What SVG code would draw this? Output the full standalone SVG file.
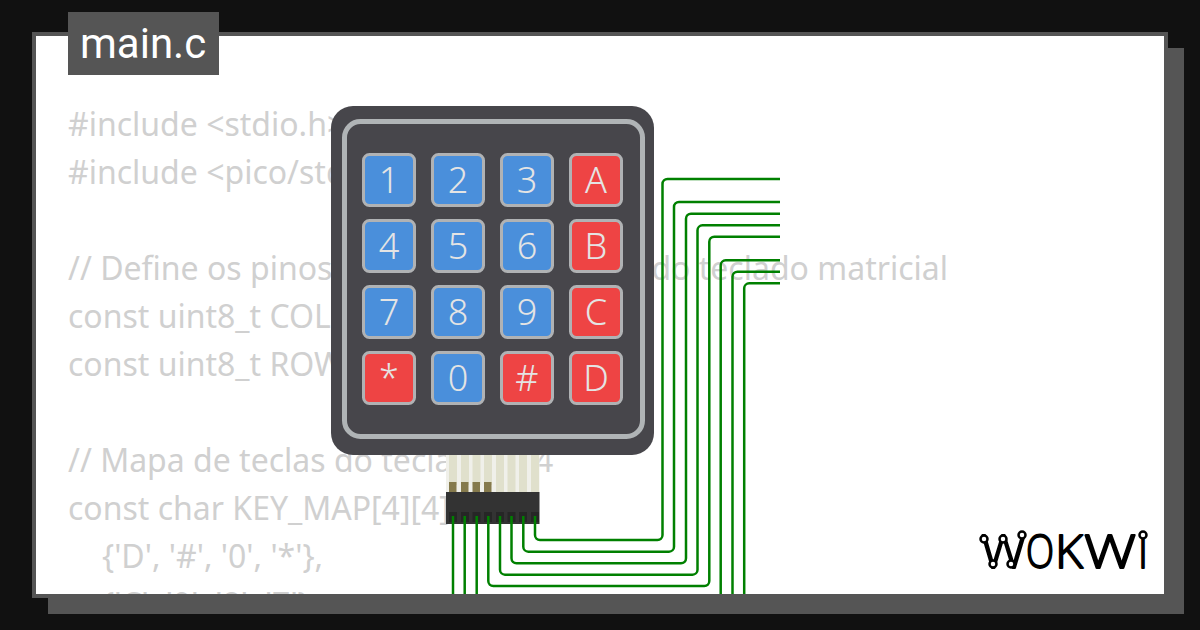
<svg xmlns="http://www.w3.org/2000/svg" width="1200" height="630" viewBox="0 0 1200 630">
<style>
.code{font-family:"Noto Sans","Open Sans",sans-serif;font-size:32px;fill:#d0d0d0}
.key{stroke:#b0b2b4;stroke-width:3}
.blue{fill:#4a8fdb}
.red{fill:#ee4444}
.lbl{font-family:"Noto Sans","Open Sans",sans-serif;font-weight:300;font-size:36px;fill:#e4e4e4;text-anchor:middle}
.w{fill:none;stroke:#008000;stroke-width:2.500}
.strip{fill:#e0e0cc}
.pad{fill:#857a4c}
.pin{fill:#262626}
.logo{font-family:"Open Sans",sans-serif;font-weight:300;font-size:46px;fill:#000;stroke:#000;stroke-width:1.800;stroke-linejoin:round}
.dot{fill:#fff;stroke:#000;stroke-width:2.500}
</style>
<defs><clipPath id="panel"><rect x="36" y="36" width="1128" height="558"/></clipPath></defs>
<rect width="1200" height="630" fill="#111"/>
<rect x="48" y="48" width="1136" height="566" fill="#555"/>
<rect x="34" y="34" width="1132" height="562" fill="#fff" stroke="#555" stroke-width="4"/>
<g id="code" clip-path="url(#panel)">
<text class="code" x="68" y="136">#include &lt;stdio.h&gt;</text>
<text class="code" x="68" y="184">#include &lt;pico/std</text>
<text class="code" x="68" y="280">// Define os pinos</text>
<text class="code" x="948" y="280" text-anchor="end">do teclado matricial</text>
<text class="code" x="68" y="328">const uint8_t COL</text>
<text class="code" x="68" y="376">const uint8_t ROW</text>
<text class="code" x="68" y="472">// Mapa de teclas do teclado 4x4</text>
<text class="code" x="68" y="520">const char KEY_MAP[4][4]</text>
<text class="code" x="102" y="568">{'D', '#', '0', '*'},</text>
<text class="code" x="102" y="616">{'C', '9', '8', '7'},</text>
</g>
<g id="title">
<rect x="68" y="12" width="151" height="63" fill="#555"/>
<text x="80" y="58" font-family="Roboto,sans-serif" font-size="42" fill="#fff">main.c</text>
</g>
<g id="keypad">
<rect x="331" y="106" width="323" height="349" rx="22" fill="#47464b"/>
<rect x="344.500" y="121.500" width="298" height="315" rx="16" fill="none" stroke="#b0b4b6" stroke-width="5"/>
<g id="key-1"><rect class="key blue" x="363.500" y="154.500" width="51" height="51" rx="6"/><text class="lbl" x="389" y="193">1</text></g>
<g id="key-2"><rect class="key blue" x="432.500" y="154.500" width="51" height="51" rx="6"/><text class="lbl" x="458" y="193">2</text></g>
<g id="key-3"><rect class="key blue" x="501.500" y="154.500" width="51" height="51" rx="6"/><text class="lbl" x="527" y="193">3</text></g>
<g id="key-A"><rect class="key red" x="570.500" y="154.500" width="51" height="51" rx="6"/><text class="lbl" x="596" y="193">A</text></g>
<g id="key-4"><rect class="key blue" x="363.500" y="220.500" width="51" height="51" rx="6"/><text class="lbl" x="389" y="259">4</text></g>
<g id="key-5"><rect class="key blue" x="432.500" y="220.500" width="51" height="51" rx="6"/><text class="lbl" x="458" y="259">5</text></g>
<g id="key-6"><rect class="key blue" x="501.500" y="220.500" width="51" height="51" rx="6"/><text class="lbl" x="527" y="259">6</text></g>
<g id="key-B"><rect class="key red" x="570.500" y="220.500" width="51" height="51" rx="6"/><text class="lbl" x="596" y="259">B</text></g>
<g id="key-7"><rect class="key blue" x="363.500" y="286.500" width="51" height="51" rx="6"/><text class="lbl" x="389" y="325">7</text></g>
<g id="key-8"><rect class="key blue" x="432.500" y="286.500" width="51" height="51" rx="6"/><text class="lbl" x="458" y="325">8</text></g>
<g id="key-9"><rect class="key blue" x="501.500" y="286.500" width="51" height="51" rx="6"/><text class="lbl" x="527" y="325">9</text></g>
<g id="key-C"><rect class="key red" x="570.500" y="286.500" width="51" height="51" rx="6"/><text class="lbl" x="596" y="325">C</text></g>
<g id="key-star"><rect class="key red" x="363.500" y="352.500" width="51" height="51" rx="6"/><text class="lbl" x="389" y="391">*</text></g>
<g id="key-0"><rect class="key blue" x="432.500" y="352.500" width="51" height="51" rx="6"/><text class="lbl" x="458" y="391">0</text></g>
<g id="key-hash"><rect class="key red" x="501.500" y="352.500" width="51" height="51" rx="6"/><text class="lbl" x="527" y="391">#</text></g>
<g id="key-D"><rect class="key red" x="570.500" y="352.500" width="51" height="51" rx="6"/><text class="lbl" x="596" y="391">D</text></g>
<rect x="446" y="455" width="93.500" height="37" fill="#f0f0ea"/>
<rect class="strip" x="449" y="455" width="8" height="30"/><rect class="strip" x="461" y="455" width="8" height="30"/><rect class="strip" x="472.500" y="455" width="8" height="30"/><rect class="strip" x="484" y="455" width="8" height="30"/><rect class="strip" x="496" y="455" width="8" height="37"/><rect class="strip" x="507.500" y="455" width="8" height="37"/><rect class="strip" x="519" y="455" width="8" height="37"/><rect class="strip" x="531" y="455" width="8" height="37"/>
<rect class="pad" x="449" y="482" width="7.500" height="10"/><rect class="pad" x="461" y="482" width="7.500" height="10"/><rect class="pad" x="472.500" y="482" width="7.500" height="10"/><rect class="pad" x="484" y="482" width="7.500" height="10"/>
<rect x="446" y="492" width="93.500" height="32" fill="#333"/>
<rect class="pin" x="449" y="512" width="8" height="10"/><rect class="pin" x="461" y="512" width="8" height="10"/><rect class="pin" x="472.500" y="512" width="8" height="10"/><rect class="pin" x="484" y="512" width="8" height="10"/><rect class="pin" x="496" y="512" width="8" height="10"/><rect class="pin" x="507.500" y="512" width="8" height="10"/><rect class="pin" x="519" y="512" width="8" height="10"/><rect class="pin" x="531" y="512" width="8" height="10"/>
</g>
<g id="connectors" clip-path="url(#panel)">
<path class="w" d="M535 516V535a5 5 0 0 0 5 5H657.500a5 5 0 0 0 5-5V184a5 5 0 0 1 5-5H780"/>
<path class="w" d="M523.300 516V546.700a5 5 0 0 0 5 5H669a5 5 0 0 0 5-5V207a5 5 0 0 1 5-5H780"/>
<path class="w" d="M511.500 516V558.300a5 5 0 0 0 5 5H681a5 5 0 0 0 5-5V218.700a5 5 0 0 1 5-5H780"/>
<path class="w" d="M500 516V569.700a5 5 0 0 0 5 5H692.500a5 5 0 0 0 5-5V230.300a5 5 0 0 1 5-5H780"/>
<path class="w" d="M488.300 516V581a5 5 0 0 0 5 5H704.300a5 5 0 0 0 5-5V241.700a5 5 0 0 1 5-5H780"/>
<path class="w" d="M476.700 516V600"/>
<path class="w" d="M464.700 516V600"/>
<path class="w" d="M453 516V600"/>
<path class="w" d="M720.700 600V265.300a5 5 0 0 1 5-5H780"/>
<path class="w" d="M732.500 600V276.700a5 5 0 0 1 5-5H780"/>
<path class="w" d="M744.200 600V288.300a5 5 0 0 1 5-5H780"/>
</g>
<g id="logo">
<text class="logo" x="981" y="568" textLength="45" lengthAdjust="spacingAndGlyphs">W</text>
<text class="logo" x="1026" y="568" textLength="28" lengthAdjust="spacingAndGlyphs">O</text>
<text class="logo" x="1055" y="568" textLength="28" lengthAdjust="spacingAndGlyphs">K</text>
<text class="logo" x="1084" y="568" textLength="52" lengthAdjust="spacingAndGlyphs">W</text>
<text class="logo" x="1138" y="568" textLength="10" lengthAdjust="spacingAndGlyphs">I</text>
<circle class="dot" cx="984" cy="539" r="3.500"/><circle class="dot" cx="1003" cy="539" r="3.500"/><circle class="dot" cx="1022" cy="535" r="3.500"/><circle class="dot" cx="993" cy="564" r="3.500"/><circle class="dot" cx="1011" cy="564" r="3.500"/><circle class="dot" cx="1143" cy="535" r="3.500"/>
</g>
</svg>
